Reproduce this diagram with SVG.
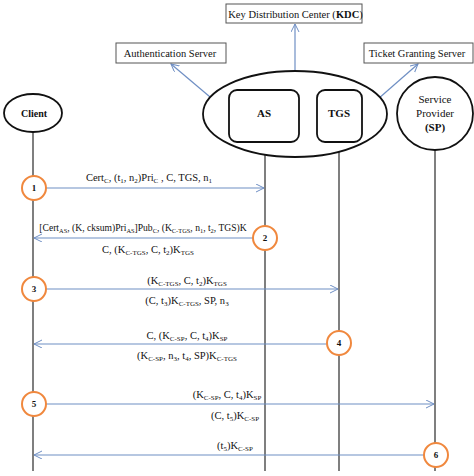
<svg xmlns="http://www.w3.org/2000/svg" width="474" height="476" viewBox="0 0 474 476" font-family="'Liberation Serif', 'Times New Roman', Tinos, 'DejaVu Serif', serif">
<defs>
<marker id="ah" markerWidth="10" markerHeight="10" refX="8" refY="4" orient="auto" markerUnits="userSpaceOnUse">
<path d="M0,0 L8,4 L0,8" fill="none" stroke="#6f8fc4" stroke-width="1"/>
</marker>
<style>
text{font-family:'Liberation Serif','Times New Roman',Tinos,'DejaVu Serif',serif;fill:#111;}
.lbl{font-size:10.5px;text-anchor:middle;}
.box{fill:#fff;stroke:#555;stroke-width:1;}
.node{fill:#fff;stroke:#111;stroke-width:1.8;}
.life{stroke:#555;stroke-width:1.5;fill:none;}
.msg{stroke:#6f8fc4;stroke-width:1.2;fill:none;marker-end:url(#ah);}
.step{fill:#fff;stroke:#f0883e;stroke-width:2;}
.num{font-size:9px;font-weight:bold;text-anchor:middle;}
.nt{font-size:11px;text-anchor:middle;}
.b{font-weight:bold;}
</style>
</defs>
<rect width="474" height="476" fill="#fff"/>

<g id="lifelines">
<line class="life" x1="33" y1="132" x2="33" y2="471"/>
<line class="life" x1="265" y1="142" x2="265" y2="471"/>
<line class="life" x1="339" y1="142" x2="339" y2="471"/>
<line class="life" x1="435" y1="150" x2="435" y2="471"/>
</g>

<g id="connectors">
<line class="msg" x1="295" y1="71" x2="295" y2="24"/>
<line class="msg" x1="229" y1="113" x2="171" y2="64"/>
<line class="msg" x1="362" y1="113" x2="418" y2="64"/>
<line class="msg" x1="46" y1="188" x2="264" y2="188"/>
<line class="msg" x1="253" y1="238" x2="34" y2="238"/>
<line class="msg" x1="46" y1="289" x2="338" y2="289"/>
<line class="msg" x1="327" y1="344" x2="34" y2="344"/>
<line class="msg" x1="46" y1="404" x2="434" y2="404"/>
<line class="msg" x1="424" y1="455" x2="34" y2="455"/>
</g>

<g id="kdc-label">
<rect class="box" x="226" y="4" width="136" height="19"/>
<text class="lbl" x="295.5" y="17.5">Key Distribution Center (<tspan class="b">KDC</tspan>)</text>
</g>
<g id="as-label">
<rect class="box" x="116" y="43" width="110" height="20"/>
<text class="lbl" x="170" y="56.5">Authentication Server</text>
</g>
<g id="tgs-label">
<rect class="box" x="364" y="43" width="109" height="20"/>
<text class="lbl" x="417" y="56.5">Ticket Granting Server</text>
</g>

<g id="kdc">
<ellipse class="node" cx="295" cy="114" rx="92" ry="43"/>
</g>
<g id="as">
<rect class="node" x="229" y="90" width="70" height="52" rx="8"/>
<text class="nt b" x="264" y="117">AS</text>
</g>
<g id="tgs">
<rect class="node" x="317" y="90" width="45" height="52" rx="8"/>
<text class="nt b" x="339" y="117">TGS</text>
</g>
<g id="client">
<ellipse class="node" cx="33" cy="113" rx="29" ry="19"/>
<text class="nt b" x="34" y="116.5" style="font-size:10px">Client</text>
</g>
<g id="sp">
<ellipse class="node" cx="435" cy="113.5" rx="38" ry="36.5"/>
<text class="nt" x="435" y="103">Service</text>
<text class="nt" x="435" y="117">Provider</text>
<text class="nt b" x="435" y="131">(SP)</text>
</g>

<g id="labels">
<text class="lbl" x="149" y="181">Cert<tspan font-size="7" dy="2">C</tspan><tspan dy="-2">, (t</tspan><tspan font-size="7" dy="2">1</tspan><tspan dy="-2">, n</tspan><tspan font-size="7" dy="2">2</tspan><tspan dy="-2">)Pri</tspan><tspan font-size="7" dy="2">C</tspan><tspan dy="-2"> , C, TGS, n</tspan><tspan font-size="7" dy="2">1</tspan></text>
<text class="lbl" x="143" y="231" style="font-size:9.6px">[Cert<tspan font-size="6.4" dy="2">AS</tspan><tspan dy="-2">, (K, cksum)Pri</tspan><tspan font-size="6.4" dy="2">AS</tspan><tspan dy="-2">]Pub</tspan><tspan font-size="6.4" dy="2">C</tspan><tspan dy="-2">, (K</tspan><tspan font-size="6.4" dy="2">C-TGS</tspan><tspan dy="-2">, n</tspan><tspan font-size="6.4" dy="2">1</tspan><tspan dy="-2">, t</tspan><tspan font-size="6.4" dy="2">2</tspan><tspan dy="-2">, TGS)K</tspan></text>
<text class="lbl" x="148" y="253">C, (K<tspan font-size="7" dy="2">C-TGS</tspan><tspan dy="-2">, C, t</tspan><tspan font-size="7" dy="2">2</tspan><tspan dy="-2">)K</tspan><tspan font-size="7" dy="2">TGS</tspan></text>
<text class="lbl" x="187" y="284">(K<tspan font-size="7" dy="2">C-TGS</tspan><tspan dy="-2">, C, t</tspan><tspan font-size="7" dy="2">2</tspan><tspan dy="-2">)K</tspan><tspan font-size="7" dy="2">TGS</tspan></text>
<text class="lbl" x="187" y="304">(C, t<tspan font-size="7" dy="2">3</tspan><tspan dy="-2">)K</tspan><tspan font-size="7" dy="2">C-TGS</tspan><tspan dy="-2">, SP, n</tspan><tspan font-size="7" dy="2">3</tspan></text>
<text class="lbl" x="187" y="339">C, (K<tspan font-size="7" dy="2">C-SP</tspan><tspan dy="-2">, C, t</tspan><tspan font-size="7" dy="2">4</tspan><tspan dy="-2">)K</tspan><tspan font-size="7" dy="2">SP</tspan></text>
<text class="lbl" x="187" y="359">(K<tspan font-size="7" dy="2">C-SP</tspan><tspan dy="-2">, n</tspan><tspan font-size="7" dy="2">3</tspan><tspan dy="-2">, t</tspan><tspan font-size="7" dy="2">4</tspan><tspan dy="-2">, SP)K</tspan><tspan font-size="7" dy="2">C-TGS</tspan></text>
<text class="lbl" x="227" y="398">(K<tspan font-size="7" dy="2">C-SP</tspan><tspan dy="-2">, C, t</tspan><tspan font-size="7" dy="2">4</tspan><tspan dy="-2">)K</tspan><tspan font-size="7" dy="2">SP</tspan></text>
<text class="lbl" x="235" y="419">(C, t<tspan font-size="7" dy="2">5</tspan><tspan dy="-2">)K</tspan><tspan font-size="7" dy="2">C-SP</tspan></text>
<text class="lbl" x="235" y="449">(t<tspan font-size="7" dy="2">5</tspan><tspan dy="-2">)K</tspan><tspan font-size="7" dy="2">C-SP</tspan></text>
</g>

<g id="step1"><circle class="step" cx="34" cy="188" r="12"/><text class="num" x="34" y="191">1</text></g>
<g id="step2"><circle class="step" cx="265" cy="238" r="12"/><text class="num" x="265" y="241">2</text></g>
<g id="step3"><circle class="step" cx="34" cy="289" r="12"/><text class="num" x="34" y="292">3</text></g>
<g id="step4"><circle class="step" cx="339" cy="343" r="12"/><text class="num" x="339" y="346">4</text></g>
<g id="step5"><circle class="step" cx="34" cy="404" r="12"/><text class="num" x="34" y="407">5</text></g>
<g id="step6"><circle class="step" cx="436" cy="455" r="12"/><text class="num" x="436" y="458">6</text></g>
</svg>
